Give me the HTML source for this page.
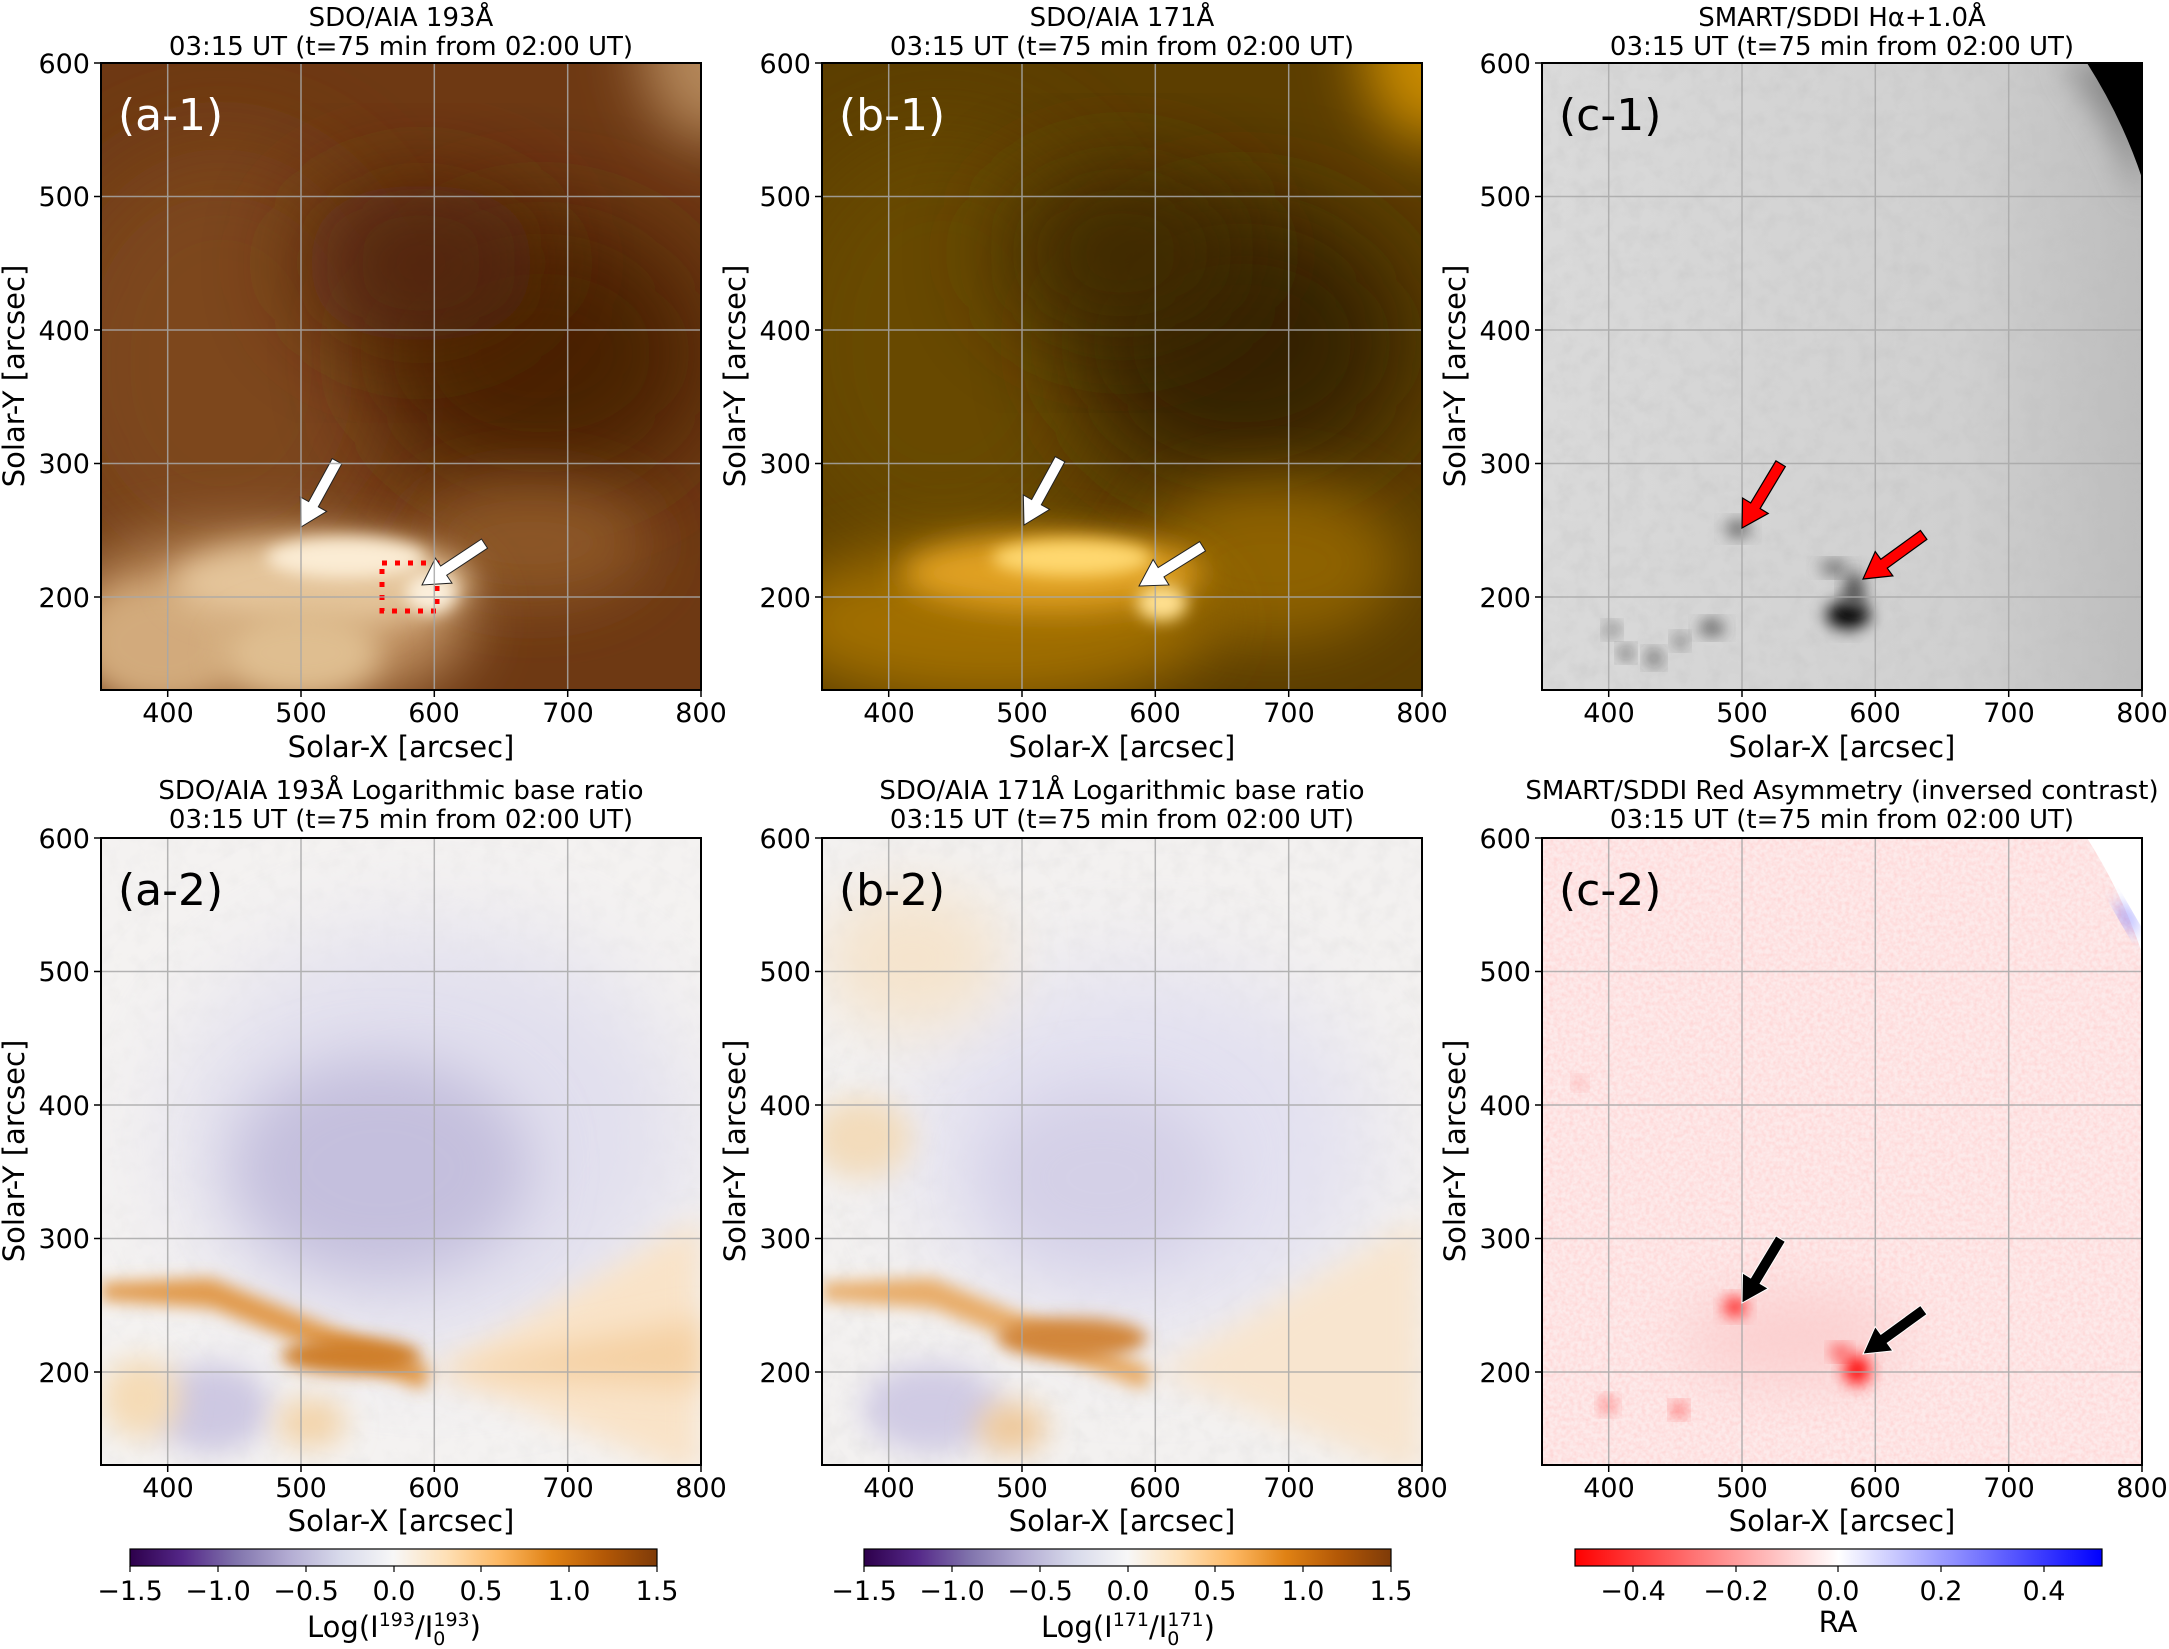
<!DOCTYPE html>
<html><head><meta charset="utf-8"><style>
html,body{margin:0;padding:0;background:#fff;}
svg{display:block;}
text{font-family:"DejaVu Sans","Liberation Sans",sans-serif;fill:#000;}
.t{font-size:26px;text-anchor:middle;}
.kx{font-size:27px;text-anchor:middle;}
.ky{font-size:27px;text-anchor:end;}
.al{font-size:29px;text-anchor:middle;}
.pl{font-size:44px;}
</style></head><body>
<svg width="2169" height="1649" viewBox="0 0 2169 1649" xmlns="http://www.w3.org/2000/svg">
<defs>
<filter id="b8" x="-50%" y="-50%" width="200%" height="200%"><feGaussianBlur stdDeviation="8"/></filter>
<filter id="b15" x="-50%" y="-50%" width="200%" height="200%"><feGaussianBlur stdDeviation="15"/></filter>
<filter id="b30" x="-50%" y="-50%" width="200%" height="200%"><feGaussianBlur stdDeviation="30"/></filter>
<filter id="b50" x="-50%" y="-50%" width="200%" height="200%"><feGaussianBlur stdDeviation="50"/></filter>
<filter id="noise" x="0" y="0" width="100%" height="100%"><feTurbulence type="fractalNoise" baseFrequency="0.25" numOctaves="2" seed="3"/><feColorMatrix type="matrix" values="0 0 0 0 1  0 0 0 0 0.6  0 0 0 0 0.6  0 0 0 -1.6 1.1"/></filter>
<filter id="noise2" x="0" y="0" width="100%" height="100%"><feTurbulence type="fractalNoise" baseFrequency="0.06" numOctaves="3" seed="7"/><feColorMatrix type="matrix" values="0 0 0 0 0.5  0 0 0 0 0.5  0 0 0 0 0.5  0 0 0 -2 1.2"/></filter>
<clipPath id="cp"><rect x="0" y="0" width="600" height="627"/></clipPath>
<linearGradient id="puor" x1="0" x2="1" y1="0" y2="0">
<stop offset="0" stop-color="#2d004b"/><stop offset="0.1" stop-color="#542788"/><stop offset="0.2" stop-color="#8073ac"/><stop offset="0.3" stop-color="#b2abd2"/><stop offset="0.4" stop-color="#d8daeb"/><stop offset="0.5" stop-color="#f7f7f7"/><stop offset="0.6" stop-color="#fee0b6"/><stop offset="0.7" stop-color="#fdb863"/><stop offset="0.8" stop-color="#e08214"/><stop offset="0.9" stop-color="#b35806"/><stop offset="1" stop-color="#7f3b08"/>
</linearGradient>
<linearGradient id="bwr" x1="0" x2="1" y1="0" y2="0"><stop offset="0" stop-color="#ff0000"/><stop offset="0.5" stop-color="#ffffff"/><stop offset="1" stop-color="#0000ff"/></linearGradient>
<linearGradient id="grayg" x1="0" x2="1" y1="0" y2="0"><stop offset="0" stop-color="#dadada"/><stop offset="0.7" stop-color="#d0d0d0"/><stop offset="1" stop-color="#bdbdbd"/></linearGradient>
<g id="ax">
<g stroke="#a8a8a8" stroke-width="1.5" opacity="0.85">
<line x1="66.7" y1="0" x2="66.7" y2="627"/><line x1="200" y1="0" x2="200" y2="627"/><line x1="333.3" y1="0" x2="333.3" y2="627"/><line x1="466.7" y1="0" x2="466.7" y2="627"/>
<line x1="0" y1="133.5" x2="600" y2="133.5"/><line x1="0" y1="267" x2="600" y2="267"/><line x1="0" y1="400.5" x2="600" y2="400.5"/><line x1="0" y1="534" x2="600" y2="534"/>
</g>
<rect x="0" y="0" width="600" height="627" fill="none" stroke="#000" stroke-width="2"/>
<g stroke="#000" stroke-width="1.5">
<line x1="66.7" y1="627" x2="66.7" y2="634"/><line x1="200" y1="627" x2="200" y2="634"/><line x1="333.3" y1="627" x2="333.3" y2="634"/><line x1="466.7" y1="627" x2="466.7" y2="634"/><line x1="600" y1="627" x2="600" y2="634"/>
<line x1="0" y1="0" x2="-7" y2="0"/><line x1="0" y1="133.5" x2="-7" y2="133.5"/><line x1="0" y1="267" x2="-7" y2="267"/><line x1="0" y1="400.5" x2="-7" y2="400.5"/><line x1="0" y1="534" x2="-7" y2="534"/>
</g>
</g>
<polygon id="arr" points="-75,-5.5 -26,-5.5 -26,-15 0,0 -26,15 -26,5.5 -75,5.5"/>
</defs>

<!-- ===== Panel a-1 ===== -->
<g transform="translate(101,63)"><g clip-path="url(#cp)">
<rect width="600" height="627" fill="#6e3913"/>
<ellipse cx="120" cy="300" rx="180" ry="220" fill="#7d461b" filter="url(#b50)"/>
<ellipse cx="610" cy="-10" rx="70" ry="90" fill="#b4875a" filter="url(#b30)"/>
<ellipse cx="440" cy="290" rx="170" ry="140" fill="#482006" filter="url(#b50)"/>
<ellipse cx="320" cy="200" rx="120" ry="80" fill="#532709" filter="url(#b50)"/>
<ellipse cx="430" cy="480" rx="120" ry="60" fill="#8c5628" filter="url(#b30)"/>
<ellipse cx="160" cy="560" rx="210" ry="90" fill="#c09060" filter="url(#b30)"/>
<ellipse cx="60" cy="580" rx="80" ry="60" fill="#d2aa7c" filter="url(#b15)"/>
<ellipse cx="220" cy="520" rx="150" ry="45" fill="#e4c49a" filter="url(#b15)"/>
<ellipse cx="200" cy="590" rx="80" ry="45" fill="#dfbe90" filter="url(#b15)"/>
<ellipse cx="245" cy="495" rx="80" ry="20" fill="#fbecd4" filter="url(#b8)"/>
<ellipse cx="330" cy="530" rx="25" ry="20" fill="#fbefdc" filter="url(#b8)"/>
<g fill="none" stroke="#f00" stroke-width="5" stroke-dasharray="5,8"><rect x="281" y="500" width="55" height="48"/></g>
<use href="#arr" transform="translate(200,464) rotate(118.7)" fill="#fff" stroke="#222" stroke-width="1"/>
<use href="#arr" transform="translate(321,522) rotate(146.5)" fill="#fff" stroke="#222" stroke-width="1"/>
</g><use href="#ax"/><text class="pl" x="17" y="67" style="fill:#fff">(a-1)</text></g>

<!-- ===== Panel b-1 ===== -->
<g transform="translate(822,63)"><g clip-path="url(#cp)">
<rect width="600" height="627" fill="#5c3e00"/>
<ellipse cx="120" cy="280" rx="180" ry="220" fill="#684800" filter="url(#b50)"/>
<ellipse cx="610" cy="-10" rx="70" ry="90" fill="#c88a00" filter="url(#b30)"/>
<ellipse cx="420" cy="280" rx="170" ry="140" fill="#352300" filter="url(#b50)"/>
<ellipse cx="300" cy="190" rx="120" ry="80" fill="#412c00" filter="url(#b50)"/>
<ellipse cx="450" cy="500" rx="130" ry="80" fill="#8e6200" filter="url(#b30)"/>
<ellipse cx="170" cy="560" rx="220" ry="80" fill="#a06e06" filter="url(#b30)"/>
<ellipse cx="230" cy="510" rx="150" ry="38" fill="#e0a020" filter="url(#b15)"/>
<ellipse cx="250" cy="495" rx="80" ry="18" fill="#ffd870" filter="url(#b8)"/>
<ellipse cx="340" cy="540" rx="25" ry="18" fill="#ffe090" filter="url(#b8)"/>
</g><use href="#ax"/>
<use href="#arr" transform="translate(202,462) rotate(118.7)" fill="#fff" stroke="#222" stroke-width="1"/>
<use href="#arr" transform="translate(317,523) rotate(148)" fill="#fff" stroke="#222" stroke-width="1"/>
<text class="pl" x="17" y="67" style="fill:#fff">(b-1)</text></g>

<!-- ===== Panel c-1 ===== -->
<g transform="translate(1542,63)"><g clip-path="url(#cp)">
<rect width="600" height="627" fill="url(#grayg)"/>
<rect width="600" height="627" filter="url(#noise2)" opacity="0.25"/>
<path d="M520,0 Q570,60 600,140 L600,0 Z" fill="#8a8a8a" filter="url(#b15)"/>
<path d="M545,0 Q580,55 600,115 L600,0 Z" fill="#000"/>
<ellipse cx="196" cy="466" rx="12" ry="8" fill="#555" filter="url(#b8)"/>
<ellipse cx="306" cy="552" rx="22" ry="14" fill="#000" filter="url(#b8)"/>
<ellipse cx="312" cy="527" rx="10" ry="18" fill="#444" filter="url(#b8)"/>
<ellipse cx="292" cy="505" rx="14" ry="6" fill="#555" filter="url(#b8)"/>
<circle cx="70" cy="567" r="6" fill="#444" filter="url(#b8)"/>
<circle cx="84" cy="590" r="6" fill="#333" filter="url(#b8)"/>
<circle cx="112" cy="595" r="7" fill="#333" filter="url(#b8)"/>
<circle cx="138" cy="578" r="6" fill="#444" filter="url(#b8)"/>
<ellipse cx="170" cy="565" rx="12" ry="7" fill="#444" filter="url(#b8)"/>
</g><use href="#ax"/>
<use href="#arr" transform="translate(200,465) rotate(121)" fill="#f00" stroke="#000" stroke-width="1.2"/>
<use href="#arr" transform="translate(321,516) rotate(144)" fill="#f00" stroke="#000" stroke-width="1.2"/>
<text class="pl" x="17" y="67">(c-1)</text></g>

<!-- ===== Panel a-2 ===== -->
<g transform="translate(101,838)"><g clip-path="url(#cp)">
<rect width="600" height="627" fill="#f4f2f1"/>
<rect width="600" height="627" filter="url(#noise2)" opacity="0.08"/>
<ellipse cx="330" cy="300" rx="260" ry="210" fill="#e1dfee" filter="url(#b50)"/>
<ellipse cx="280" cy="330" rx="150" ry="110" fill="#c4bfdd" filter="url(#b30)"/>
<polygon points="333,534 600,380 600,640" fill="#f9e3c8" filter="url(#b15)"/>
<polygon points="333,534 600,480 600,550" fill="#f5d1a4" filter="url(#b15)"/>
<polygon points="0,445 110,440 330,530 322,552 110,470 0,462" fill="#e19a4c" filter="url(#b8)"/>
<ellipse cx="250" cy="518" rx="70" ry="18" fill="#cf7f2c" filter="url(#b8)"/>
<ellipse cx="110" cy="570" rx="60" ry="45" fill="#cdc8e2" filter="url(#b15)"/>
<ellipse cx="40" cy="560" rx="40" ry="40" fill="#f5dbb6" filter="url(#b15)"/>
<ellipse cx="210" cy="585" rx="35" ry="25" fill="#f3d3a8" filter="url(#b15)"/>
</g><use href="#ax"/><text class="pl" x="17" y="67">(a-2)</text></g>

<!-- ===== Panel b-2 ===== -->
<g transform="translate(822,838)"><g clip-path="url(#cp)">
<rect width="600" height="627" fill="#f3f1f0"/>
<rect width="600" height="627" filter="url(#noise2)" opacity="0.12"/>
<ellipse cx="320" cy="310" rx="230" ry="180" fill="#e2e0f0" filter="url(#b50)"/>
<ellipse cx="280" cy="340" rx="120" ry="90" fill="#d4d0e7" filter="url(#b30)"/>
<ellipse cx="90" cy="120" rx="90" ry="70" fill="#f5e4cd" filter="url(#b30)"/>
<ellipse cx="40" cy="300" rx="50" ry="40" fill="#f3dcbb" filter="url(#b15)"/>
<polygon points="333,534 600,380 600,640" fill="#f8e5cf" filter="url(#b15)"/>
<polygon points="0,445 110,440 330,530 322,552 110,470 0,462" fill="#e8ac68" filter="url(#b8)"/>
<ellipse cx="250" cy="500" rx="75" ry="20" fill="#d2863a" filter="url(#b8)"/>
<ellipse cx="110" cy="570" rx="70" ry="45" fill="#d0cbe4" filter="url(#b15)"/>
<ellipse cx="190" cy="590" rx="35" ry="25" fill="#efc898" filter="url(#b15)"/>
</g><use href="#ax"/><text class="pl" x="17" y="67">(b-2)</text></g>

<!-- ===== Panel c-2 ===== -->
<g transform="translate(1542,838)"><g clip-path="url(#cp)">
<rect width="600" height="627" fill="#fdeaea"/>
<rect width="600" height="627" filter="url(#noise)" opacity="0.7"/>
<path d="M545,0 Q580,55 600,115 L600,0 Z" fill="#fff"/>
<ellipse cx="250" cy="500" rx="110" ry="45" fill="#fbcfcf" filter="url(#b30)"/>
<ellipse cx="193" cy="469" rx="11" ry="9" fill="#f00" filter="url(#b8)"/>
<ellipse cx="315" cy="532" rx="13" ry="15" fill="#f00" filter="url(#b8)"/>
<ellipse cx="298" cy="514" rx="8" ry="6" fill="#f00" filter="url(#b8)"/>
<circle cx="66" cy="567" r="7" fill="#f55" filter="url(#b8)"/>
<circle cx="137" cy="572" r="6" fill="#f00" filter="url(#b8)"/>
<circle cx="38" cy="245" r="5" fill="#f77" filter="url(#b8)"/>
<ellipse cx="585" cy="80" rx="4" ry="18" fill="#66f" transform="rotate(-30 585 80)" filter="url(#b8)"/>
</g><use href="#ax"/>
<use href="#arr" transform="translate(200,465) rotate(121)" fill="#000" stroke="#fff" stroke-width="1"/>
<use href="#arr" transform="translate(321,516) rotate(144)" fill="#000" stroke="#fff" stroke-width="1"/>
<text class="pl" x="17" y="67">(c-2)</text></g>

<!-- ===== Titles ===== -->
<text class="t" x="401" y="26">SDO/AIA 193Å</text>
<text class="t" x="401" y="55">03:15 UT (t=75 min from 02:00 UT)</text>
<text class="t" x="1122" y="26">SDO/AIA 171Å</text>
<text class="t" x="1122" y="55">03:15 UT (t=75 min from 02:00 UT)</text>
<text class="t" x="1842" y="26">SMART/SDDI Hα+1.0Å</text>
<text class="t" x="1842" y="55">03:15 UT (t=75 min from 02:00 UT)</text>
<text class="t" x="401" y="799">SDO/AIA 193Å Logarithmic base ratio</text>
<text class="t" x="401" y="828">03:15 UT (t=75 min from 02:00 UT)</text>
<text class="t" x="1122" y="799">SDO/AIA 171Å Logarithmic base ratio</text>
<text class="t" x="1122" y="828">03:15 UT (t=75 min from 02:00 UT)</text>
<text class="t" x="1842" y="799">SMART/SDDI Red Asymmetry (inversed contrast)</text>
<text class="t" x="1842" y="828">03:15 UT (t=75 min from 02:00 UT)</text>

<g>
<text class="kx" x="168" y="722">400</text><text class="kx" x="301" y="722">500</text><text class="kx" x="434" y="722">600</text><text class="kx" x="568" y="722">700</text><text class="kx" x="701" y="722">800</text>
<text class="kx" x="889" y="722">400</text><text class="kx" x="1022" y="722">500</text><text class="kx" x="1155" y="722">600</text><text class="kx" x="1289" y="722">700</text><text class="kx" x="1422" y="722">800</text>
<text class="kx" x="1609" y="722">400</text><text class="kx" x="1742" y="722">500</text><text class="kx" x="1875" y="722">600</text><text class="kx" x="2009" y="722">700</text><text class="kx" x="2142" y="722">800</text>
<text class="kx" x="168" y="1497">400</text><text class="kx" x="301" y="1497">500</text><text class="kx" x="434" y="1497">600</text><text class="kx" x="568" y="1497">700</text><text class="kx" x="701" y="1497">800</text>
<text class="kx" x="889" y="1497">400</text><text class="kx" x="1022" y="1497">500</text><text class="kx" x="1155" y="1497">600</text><text class="kx" x="1289" y="1497">700</text><text class="kx" x="1422" y="1497">800</text>
<text class="kx" x="1609" y="1497">400</text><text class="kx" x="1742" y="1497">500</text><text class="kx" x="1875" y="1497">600</text><text class="kx" x="2009" y="1497">700</text><text class="kx" x="2142" y="1497">800</text>
</g>
<g>
<text class="ky" x="90" y="73">600</text><text class="ky" x="90" y="206">500</text><text class="ky" x="90" y="340">400</text><text class="ky" x="90" y="473">300</text><text class="ky" x="90" y="607">200</text>
<text class="ky" x="811" y="73">600</text><text class="ky" x="811" y="206">500</text><text class="ky" x="811" y="340">400</text><text class="ky" x="811" y="473">300</text><text class="ky" x="811" y="607">200</text>
<text class="ky" x="1531" y="73">600</text><text class="ky" x="1531" y="206">500</text><text class="ky" x="1531" y="340">400</text><text class="ky" x="1531" y="473">300</text><text class="ky" x="1531" y="607">200</text>
<text class="ky" x="90" y="848">600</text><text class="ky" x="90" y="981">500</text><text class="ky" x="90" y="1115">400</text><text class="ky" x="90" y="1248">300</text><text class="ky" x="90" y="1382">200</text>
<text class="ky" x="811" y="848">600</text><text class="ky" x="811" y="981">500</text><text class="ky" x="811" y="1115">400</text><text class="ky" x="811" y="1248">300</text><text class="ky" x="811" y="1382">200</text>
<text class="ky" x="1531" y="848">600</text><text class="ky" x="1531" y="981">500</text><text class="ky" x="1531" y="1115">400</text><text class="ky" x="1531" y="1248">300</text><text class="ky" x="1531" y="1382">200</text>
</g>

<text class="al" x="401" y="757">Solar-X [arcsec]</text>
<text class="al" x="1122" y="757">Solar-X [arcsec]</text>
<text class="al" x="1842" y="757">Solar-X [arcsec]</text>
<text class="al" x="401" y="1531">Solar-X [arcsec]</text>
<text class="al" x="1122" y="1531">Solar-X [arcsec]</text>
<text class="al" x="1842" y="1531">Solar-X [arcsec]</text>
<text class="al" transform="translate(24,376) rotate(-90)">Solar-Y [arcsec]</text>
<text class="al" transform="translate(745,376) rotate(-90)">Solar-Y [arcsec]</text>
<text class="al" transform="translate(1465,376) rotate(-90)">Solar-Y [arcsec]</text>
<text class="al" transform="translate(24,1151) rotate(-90)">Solar-Y [arcsec]</text>
<text class="al" transform="translate(745,1151) rotate(-90)">Solar-Y [arcsec]</text>
<text class="al" transform="translate(1465,1151) rotate(-90)">Solar-Y [arcsec]</text>

<rect x="130" y="1549" width="527" height="17" fill="url(#puor)" stroke="#000" stroke-width="1.2"/>
<rect x="864" y="1549" width="527" height="17" fill="url(#puor)" stroke="#000" stroke-width="1.2"/>
<rect x="1575" y="1549" width="527" height="17" fill="url(#bwr)" stroke="#000" stroke-width="1.2"/>
<g stroke="#000" stroke-width="1.2">
<line x1="130" y1="1566" x2="130" y2="1572"/><line x1="218" y1="1566" x2="218" y2="1572"/><line x1="306" y1="1566" x2="306" y2="1572"/><line x1="394" y1="1566" x2="394" y2="1572"/><line x1="481" y1="1566" x2="481" y2="1572"/><line x1="569" y1="1566" x2="569" y2="1572"/><line x1="657" y1="1566" x2="657" y2="1572"/>
<line x1="864" y1="1566" x2="864" y2="1572"/><line x1="952" y1="1566" x2="952" y2="1572"/><line x1="1040" y1="1566" x2="1040" y2="1572"/><line x1="1128" y1="1566" x2="1128" y2="1572"/><line x1="1215" y1="1566" x2="1215" y2="1572"/><line x1="1303" y1="1566" x2="1303" y2="1572"/><line x1="1391" y1="1566" x2="1391" y2="1572"/>
<line x1="1633" y1="1566" x2="1633" y2="1572"/><line x1="1736" y1="1566" x2="1736" y2="1572"/><line x1="1838" y1="1566" x2="1838" y2="1572"/><line x1="1941" y1="1566" x2="1941" y2="1572"/><line x1="2044" y1="1566" x2="2044" y2="1572"/>
</g>
<g>
<text class="kx" x="130" y="1600">−1.5</text><text class="kx" x="218" y="1600">−1.0</text><text class="kx" x="306" y="1600">−0.5</text><text class="kx" x="394" y="1600">0.0</text><text class="kx" x="481" y="1600">0.5</text><text class="kx" x="569" y="1600">1.0</text><text class="kx" x="657" y="1600">1.5</text>
<text class="kx" x="864" y="1600">−1.5</text><text class="kx" x="952" y="1600">−1.0</text><text class="kx" x="1040" y="1600">−0.5</text><text class="kx" x="1128" y="1600">0.0</text><text class="kx" x="1215" y="1600">0.5</text><text class="kx" x="1303" y="1600">1.0</text><text class="kx" x="1391" y="1600">1.5</text>
<text class="kx" x="1633" y="1600">−0.4</text><text class="kx" x="1736" y="1600">−0.2</text><text class="kx" x="1838" y="1600">0.0</text><text class="kx" x="1941" y="1600">0.2</text><text class="kx" x="2044" y="1600">0.4</text>
</g>
<text class="al" x="394" y="1637">Log(I<tspan font-size="19" dy="-11">193</tspan><tspan dy="11">/I</tspan><tspan font-size="19" dy="8">0</tspan><tspan font-size="19" dx="-12" dy="-19">193</tspan><tspan dy="11">)</tspan></text>
<text class="al" x="1128" y="1637">Log(I<tspan font-size="19" dy="-11">171</tspan><tspan dy="11">/I</tspan><tspan font-size="19" dy="8">0</tspan><tspan font-size="19" dx="-12" dy="-19">171</tspan><tspan dy="11">)</tspan></text>
<text class="al" x="1838" y="1632">RA</text>
</svg>
</body></html>
